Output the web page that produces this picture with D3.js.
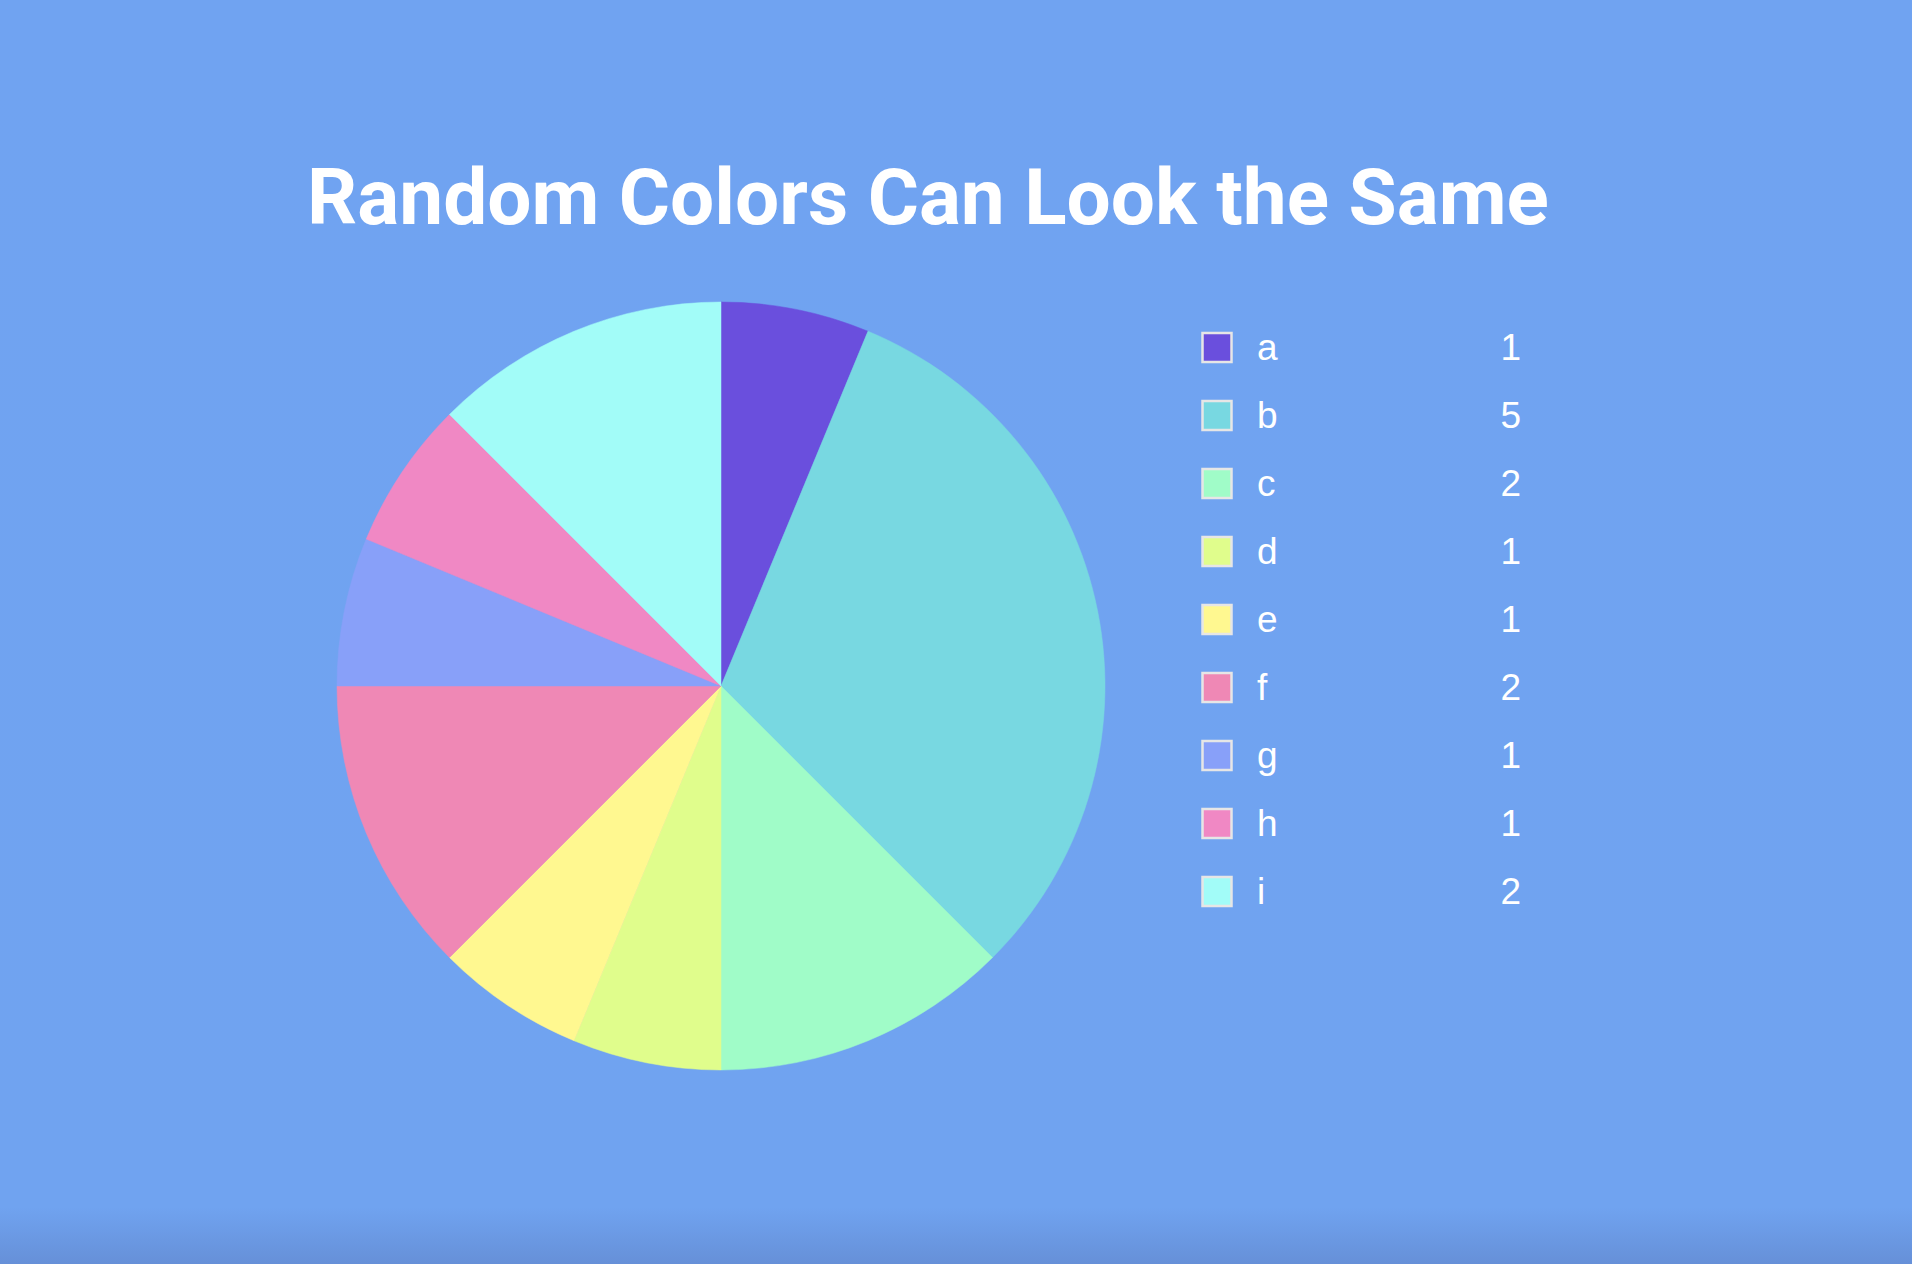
<!DOCTYPE html>
<html>
<head>
<meta charset="utf-8">
<script src="https://cdn.jsdelivr.net/npm/d3@7"></script>
<style>
html,body{margin:0;padding:0;background:#70a3f1;}
svg{display:block;}
</style>
</head>
<body>
<svg id="chart" width="1912" height="1264"></svg>
<script>
const titleText = "Random Colors Can Look the Same";
const categories = ["a","b","c","d","e","f","g","h","i"];
const values = [1,5,2,1,1,2,1,1,2];
const colors = ["#6a4fdd","#78d8e1","#a0fcc8","#e0fd8c","#fff890","#ef88b5","#88a0f9","#f088c4","#a2fcf8"];

const W = 1912, H = 1264;
const svg = d3.select("#chart");

// background
const defs = svg.append("defs");
const bg = defs.append("linearGradient").attr("id","bg").attr("x1",0).attr("y1",0).attr("x2",0).attr("y2",1);
bg.append("stop").attr("offset","0").attr("stop-color","#70a3f1");
bg.append("stop").attr("offset","0.955").attr("stop-color","#70a3f0");
bg.append("stop").attr("offset","1").attr("stop-color","#6690d8");
svg.append("rect").attr("width",W).attr("height",H).attr("fill","url(#bg)");

// title
const title = svg.append("text")
  .attr("x", 928).attr("y", 224)
  .attr("text-anchor","middle")
  .attr("font-family","Roboto, 'Liberation Sans', sans-serif")
  .attr("font-weight",700)
  .attr("font-size",75)
  .attr("fill","#ffffff")
  .text(titleText);
const tw = title.node().getComputedTextLength();
const targetW = 1242;
title.attr("font-size", 75 * targetW / tw);

// pie
const cx = 721, cy = 686, R = 384;
const pie = d3.pie().sort(null).value(d => d.v);
const arc = d3.arc().innerRadius(0).outerRadius(R);
const color = d3.scaleOrdinal().domain(categories).range(colors);
const data = categories.map((c,i)=>({c, v: values[i]}));

svg.append("g").attr("transform",`translate(${cx},${cy})`)
  .selectAll("path").data(pie(data)).join("path")
  .attr("d", arc)
  .attr("fill", d => color(d.data.c))
  .attr("stroke", d => color(d.data.c))
  .attr("stroke-width", 0.5);

// legend
const y = d3.scalePoint().domain(categories).range([332, 332 + 68*8]);
const lg = svg.append("g");
const rows = lg.selectAll("g").data(data).join("g")
  .attr("transform", d => `translate(0,${y(d.c)})`);
rows.append("rect")
  .attr("x", 1202.5).attr("y", 1).attr("width", 29).attr("height", 29)
  .attr("fill", d => color(d.c))
  .attr("stroke", "#e6e6e6").attr("stroke-width", 2.5);
rows.append("text")
  .attr("x", 1257).attr("y", 28)
  .attr("font-family","'Liberation Sans', Arial, sans-serif")
  .attr("font-size", 37)
  .attr("fill","#ffffff")
  .text(d => d.c);
rows.append("text")
  .attr("x", 1521).attr("y", 28)
  .attr("text-anchor","end")
  .attr("font-family","'Liberation Sans', Arial, sans-serif")
  .attr("font-size", 37)
  .attr("fill","#ffffff")
  .text(d => d.v);
</script>
</body>
</html>
